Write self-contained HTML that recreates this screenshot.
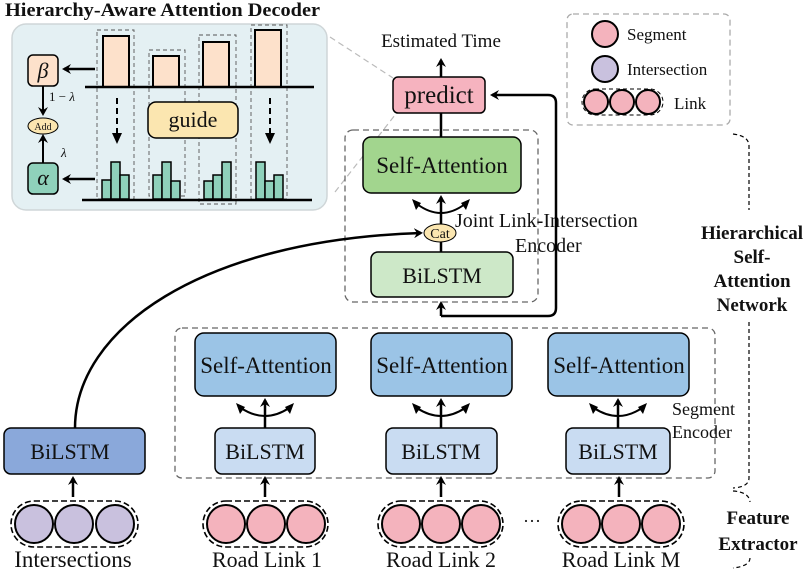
<!DOCTYPE html>
<html><head><meta charset="utf-8"><style>
html,body{margin:0;padding:0;background:#fff;}
svg{display:block;}
text{font-family:"Liberation Serif",serif;fill:#111;}
</style></head><body>
<svg width="805" height="572" viewBox="0 0 805 572" xmlns="http://www.w3.org/2000/svg">
<defs>
<marker id="ah" markerWidth="10" markerHeight="10" refX="7" refY="5" orient="auto" markerUnits="userSpaceOnUse"><path d="M0,0 L9,5 L0,10 L3,5 Z" fill="#000"/></marker>
</defs>
<!-- Decoder panel -->
<text x="5" y="16" font-size="19" font-weight="bold" textLength="315" lengthAdjust="spacingAndGlyphs">Hierarchy-Aware Attention Decoder</text>
<rect x="12" y="24" width="315" height="186" rx="14" fill="#e4f0f3" stroke="#cfd6d8" stroke-width="1.5"/>
<line x1="330" y1="37" x2="393" y2="78" stroke="#bbb" stroke-dasharray="6,4" stroke-width="1.2"/>
<line x1="335" y1="192" x2="395" y2="115" stroke="#bbb" stroke-dasharray="6,4" stroke-width="1.2"/>
<g fill="none" stroke="#555" stroke-dasharray="4,3" stroke-width="0.9">
<rect x="97" y="30" width="37" height="169"/>
<rect x="149" y="50" width="36" height="146"/>
<rect x="199" y="35" width="37" height="169"/>
<rect x="251" y="25" width="36" height="174"/>
</g>
<g fill="#fde1cb" stroke="#000" stroke-width="2">
<rect x="103" y="36" width="26" height="51"/>
<rect x="153" y="56" width="26" height="31"/>
<rect x="203" y="42" width="26" height="45"/>
<rect x="255" y="30" width="26" height="57"/>
</g>
<line x1="85" y1="87" x2="314" y2="87" stroke="#000" stroke-width="2.5"/>
<g fill="#8fd1bb" stroke="#000" stroke-width="1.5">
<rect x="102" y="180" width="9" height="19"/><rect x="111" y="162" width="9" height="37"/><rect x="120" y="175" width="9" height="24"/>
<rect x="153" y="175" width="9" height="24"/><rect x="162" y="162" width="9" height="37"/><rect x="171" y="181" width="9" height="18"/>
<rect x="204" y="181" width="9" height="18"/><rect x="213" y="175" width="9" height="24"/><rect x="222" y="162" width="9" height="37"/>
<rect x="256" y="162" width="9" height="37"/><rect x="265" y="181" width="9" height="18"/><rect x="274" y="175" width="9" height="24"/>
</g>
<line x1="82" y1="200" x2="312" y2="200" stroke="#000" stroke-width="2.5"/>
<g stroke="#000" stroke-width="2" stroke-dasharray="6,4">
<line x1="117" y1="98" x2="117" y2="134"/><line x1="270" y1="98" x2="270" y2="134"/>
</g>
<path d="M112,133 L117,144 L122,133 Z M265,133 L270,144 L275,133 Z" fill="#000"/>
<rect x="148" y="102" width="90" height="36" rx="8" fill="#fbe6b0" stroke="#000" stroke-width="1.5"/>
<text x="193" y="127" font-size="22" text-anchor="middle">guide</text>
<rect x="28" y="55" width="30" height="31" rx="5" fill="#fde1cb" stroke="#000" stroke-width="1.5"/>
<text x="43" y="78" font-size="22" font-style="italic" text-anchor="middle">β</text>
<rect x="28" y="163" width="30" height="31" rx="5" fill="#8fd1bb" stroke="#000" stroke-width="1.5"/>
<text x="43" y="185" font-size="22" font-style="italic" text-anchor="middle">α</text>
<line x1="95" y1="69" x2="64" y2="69" stroke="#000" stroke-width="2.5" marker-end="url(#ah)"/>
<line x1="95" y1="179" x2="64" y2="179" stroke="#000" stroke-width="2.5" marker-end="url(#ah)"/>
<line x1="43" y1="86" x2="43" y2="114" stroke="#000" stroke-width="2" marker-end="url(#ah)"/>
<line x1="43" y1="163" x2="43" y2="136" stroke="#000" stroke-width="2" marker-end="url(#ah)"/>
<ellipse cx="43" cy="126" rx="15" ry="8" fill="#fbe6b0" stroke="#000" stroke-width="1"/>
<text x="43" y="130" font-size="10" text-anchor="middle">Add</text>
<text x="49" y="101" font-size="13">1 − <tspan font-style="italic">λ</tspan></text>
<text x="61" y="157" font-size="13" font-style="italic">λ</text>

<!-- Top prediction -->
<text x="441" y="47" font-size="19" text-anchor="middle">Estimated Time</text>
<line x1="441" y1="77" x2="441" y2="60" stroke="#000" stroke-width="2.5" marker-end="url(#ah)"/>
<rect x="393" y="77" width="92" height="36" rx="5" fill="#f6b3bf" stroke="#000" stroke-width="1.5"/>
<text x="439" y="103" font-size="25" text-anchor="middle">predict</text>
<line x1="441" y1="113" x2="441" y2="137" stroke="#000" stroke-width="2.5"/>
<rect x="345" y="130" width="193" height="172" rx="8" fill="none" stroke="#666" stroke-width="1.3" stroke-dasharray="6,4"/>
<rect x="363" y="137" width="158" height="56" rx="8" fill="#a2d58e" stroke="#000" stroke-width="1.5"/>
<text x="442" y="173" font-size="23" text-anchor="middle">Self-Attention</text>
<rect x="371" y="252" width="142" height="45" rx="7" fill="#cde8c8" stroke="#000" stroke-width="1.5"/>
<text x="442" y="283" font-size="22" text-anchor="middle">BiLSTM</text>
<line x1="441" y1="252" x2="441" y2="197" stroke="#000" stroke-width="2.5" marker-end="url(#ah)"/>
<path d="M417,204 Q441,222 465,204" fill="none" stroke="#000" stroke-width="2"/>
<path d="M412,199 L416,210 L421,203 Z M470,199 L466,210 L461,203 Z" fill="#000"/>
<ellipse cx="440" cy="233" rx="16" ry="9" fill="#fbe6b0" stroke="#000" stroke-width="1"/>
<text x="440" y="238" font-size="14" text-anchor="middle">Cat</text>
<text x="455" y="227" font-size="20">Joint Link-Intersection</text>
<text x="515" y="252" font-size="20">Encoder</text>
<path d="M441,316 L548,316 Q556,316 556,308 L556,103 Q556,95 548,95 L492,95" fill="none" stroke="#000" stroke-width="2.5" marker-end="url(#ah)"/>
<line x1="441" y1="316" x2="441" y2="303" stroke="#000" stroke-width="2.5" marker-end="url(#ah)"/>
<path d="M75,428 C75,330 200,240 421,233" fill="none" stroke="#000" stroke-width="2.5" marker-end="url(#ah)"/>

<!-- Legend -->
<rect x="567" y="14" width="163" height="111" rx="6" fill="none" stroke="#aaa" stroke-width="1.3" stroke-dasharray="6,4"/>
<circle cx="605" cy="34" r="13" fill="#f4b3bd" stroke="#000" stroke-width="2"/>
<text x="627" y="40" font-size="17">Segment</text>
<circle cx="605" cy="69" r="13" fill="#c9c1de" stroke="#000" stroke-width="2"/>
<text x="627" y="75" font-size="17">Intersection</text>
<rect x="582" y="89" width="81" height="26" rx="13" fill="none" stroke="#000" stroke-width="1" stroke-dasharray="4,3"/>
<circle cx="596" cy="102" r="12" fill="#f4b3bd" stroke="#000" stroke-width="2"/>
<circle cx="622" cy="102" r="12" fill="#f4b3bd" stroke="#000" stroke-width="2"/>
<circle cx="648" cy="102" r="12" fill="#f4b3bd" stroke="#000" stroke-width="2"/>
<text x="674" y="109" font-size="17">Link</text>

<!-- Brackets -->
<g fill="none" stroke="#000" stroke-width="1.2" stroke-dasharray="4,3">
<path d="M733,134 Q749,136 749,146 L749,210"/>
<path d="M749,322 L749,478 Q749,487 733,488"/>
<path d="M733,491 Q749,492 750,502"/>
<path d="M750,558 Q750,566 733,568"/>
</g>
<g font-weight="bold" font-size="19" text-anchor="middle">
<text x="752" y="239">Hierarchical</text>
<text x="752" y="263">Self-</text>
<text x="752" y="287">Attention</text>
<text x="752" y="311">Network</text>
<text x="758" y="524">Feature</text>
<text x="758" y="550">Extractor</text>
</g>

<!-- Segment encoder -->
<rect x="175" y="328" width="540" height="150" rx="7" fill="none" stroke="#666" stroke-width="1.3" stroke-dasharray="6,4"/>
<text x="672" y="415" font-size="18">Segment</text>
<text x="672" y="438" font-size="18">Encoder</text>
<g fill="#9bc4e6" stroke="#000" stroke-width="1.5">
<rect x="195" y="333" width="141" height="63" rx="9"/>
<rect x="371" y="333" width="141" height="63" rx="9"/>
<rect x="548" y="333" width="141" height="63" rx="9"/>
</g>
<g fill="#c9dcf2" stroke="#000" stroke-width="1.5">
<rect x="215" y="428" width="100" height="46" rx="7"/>
<rect x="386" y="428" width="111" height="46" rx="7"/>
<rect x="566" y="428" width="104" height="46" rx="7"/>
</g>
<rect x="4" y="428" width="141" height="46" rx="7" fill="#8aa8da" stroke="#000" stroke-width="1.5"/>
<g font-size="23" text-anchor="middle">
<text x="266" y="373">Self-Attention</text>
<text x="442" y="373">Self-Attention</text>
<text x="619" y="373">Self-Attention</text>
</g>
<g font-size="22" text-anchor="middle">
<text x="70" y="459">BiLSTM</text>
<text x="265" y="459">BiLSTM</text>
<text x="441" y="459">BiLSTM</text>
<text x="618" y="459">BiLSTM</text>
</g>
<g stroke="#000" stroke-width="2.5">
<line x1="265" y1="428" x2="265" y2="400" marker-end="url(#ah)"/>
<line x1="441" y1="428" x2="441" y2="400" marker-end="url(#ah)"/>
<line x1="618" y1="428" x2="618" y2="400" marker-end="url(#ah)"/>
<line x1="73" y1="497" x2="73" y2="478" marker-end="url(#ah)"/>
<line x1="265" y1="497" x2="265" y2="478" marker-end="url(#ah)"/>
<line x1="441" y1="497" x2="441" y2="478" marker-end="url(#ah)"/>
<line x1="619" y1="497" x2="619" y2="478" marker-end="url(#ah)"/>
</g>
<g fill="none" stroke="#000" stroke-width="2">
<path d="M241,408 Q265,424 289,408"/>
<path d="M417,408 Q441,424 465,408"/>
<path d="M594,408 Q618,424 642,408"/>
</g>
<path d="M236,403 L240,414 L245,407 Z M294,403 L290,414 L285,407 Z M412,403 L416,414 L421,407 Z M470,403 L466,414 L461,407 Z M589,403 L593,414 L598,407 Z M647,403 L643,414 L638,407 Z" fill="#000"/>

<!-- circles -->
<g fill="none" stroke="#000" stroke-width="1.6" stroke-dasharray="6,3">
<rect x="11" y="501" width="127" height="46" rx="23"/>
<rect x="203" y="501" width="125" height="46" rx="23"/>
<rect x="378" y="501" width="125" height="46" rx="23"/>
<rect x="558" y="501" width="126" height="46" rx="23"/>
</g>
<g fill="#c9c1de" stroke="#000" stroke-width="2">
<circle cx="34" cy="524" r="19"/><circle cx="74" cy="524" r="19"/><circle cx="115" cy="524" r="19"/>
</g>
<g fill="#f4b3bd" stroke="#000" stroke-width="2">
<circle cx="226" cy="524" r="19"/><circle cx="266" cy="524" r="19"/><circle cx="306" cy="524" r="19"/>
<circle cx="401" cy="524" r="19"/><circle cx="441" cy="524" r="19"/><circle cx="481" cy="524" r="19"/>
<circle cx="581" cy="524" r="19"/><circle cx="621" cy="524" r="19"/><circle cx="661" cy="524" r="19"/>
</g>
<text x="532" y="527" font-size="18" text-anchor="middle">···</text>
<g font-size="22" text-anchor="middle">
<text x="73" y="567" font-size="23">Intersections</text>
<text x="267" y="567">Road Link 1</text>
<text x="441" y="567">Road Link 2</text>
<text x="621" y="567">Road Link M</text>
</g>
</svg>
</body></html>
